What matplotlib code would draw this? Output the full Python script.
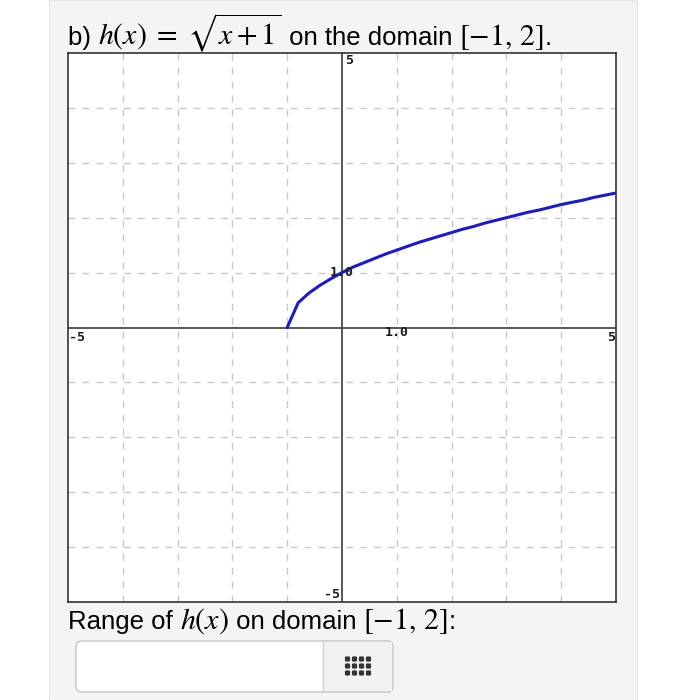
import matplotlib.pyplot as plt
from matplotlib.patches import Rectangle, FancyBboxPatch

# valores
x_vals = [-1.0, -0.8, -0.6, -0.4, -0.2, 0.0, 0.2, 0.4, 0.6, 0.8,
          1.0, 1.2, 1.4, 1.6, 1.8, 2.0, 2.2, 2.4, 2.6, 2.8,
          3.0, 3.2, 3.4, 3.6, 3.8, 4.0, 4.2, 4.4, 4.6, 4.8, 5.0]
y_vals = [0.0, 0.45, 0.63, 0.77, 0.89, 1.0, 1.10, 1.18, 1.26, 1.34,
          1.41, 1.48, 1.55, 1.61, 1.67, 1.73, 1.79, 1.84, 1.90, 1.95,
          2.0, 2.05, 2.10, 2.14, 2.19, 2.24, 2.28, 2.32, 2.37, 2.41, 2.45]
grid_ticks = [-4, -3, -2, -1, 1, 2, 3, 4]

title_parts = [('b) ', 'txt'), (r'$h(x)\;=\;\sqrt{x+1}$', 'mat'), (' on the domain ', 'txt'),
               (r'$[-1,\,2]$', 'mat'), ('.', 'txt')]
range_parts = [('Range of ', 'txt'), (r'$h(x)$', 'mat'), (' on domain ', 'txt'),
               (r'$[-1,\,2]$', 'mat'), (':', 'txt')]

plt.rcParams['mathtext.fontset'] = 'stix'
W, H = 688, 700
fig = plt.figure(figsize=(W / 100, H / 100), dpi=100)
fig.patch.set_facecolor('white')

# painel cinza de fundo
fig.patches.append(Rectangle((49 / W, 0), (637 - 49) / W, 1, transform=fig.transFigure,
                             facecolor='#f4f4f4', edgecolor='#e6e6e6', lw=0.8, zorder=-5))


def linha_texto(partes, x0, y0, tam_txt=18.5, tam_mat=21.5):
    renderer = fig.canvas.get_renderer()
    x = x0
    for s, tipo in partes:
        if tipo == 'txt':
            t = fig.text(x / W, 1 - y0 / H, s, fontsize=tam_txt, family='Liberation Sans',
                         va='baseline', ha='left')
        else:
            t = fig.text(x / W, 1 - y0 / H, s, fontsize=tam_mat, va='baseline', ha='left')
        bb = t.get_window_extent(renderer)
        x += bb.width


linha_texto(title_parts, 68, 45)

ax = fig.add_axes([68 / W, 1 - 602 / H, (616 - 68) / W, (602 - 53) / H], zorder=2)
ax.set_facecolor('white')
ax.set_xlim(-5, 5)
ax.set_ylim(-5, 5)
for g in grid_ticks:
    ax.axvline(g, color='#c8c8c8', lw=1, ls=(0, (5, 5)), zorder=1)
    ax.axhline(g, color='#c8c8c8', lw=1, ls=(0, (5, 5)), zorder=1)
ax.axhline(0, color='#3a3a3a', lw=1.2, zorder=2)
ax.axvline(0, color='#3a3a3a', lw=1.2, zorder=2)
ax.plot(x_vals, y_vals, color='#1a1ad2', lw=2.2, zorder=3, solid_capstyle='round')
ax.set_xticks([])
ax.set_yticks([])
for s in ax.spines.values():
    s.set_color('#333333')
    s.set_linewidth(1.2)

lbl = dict(family='DejaVu Sans Mono', fontweight='bold', fontsize=9.5, color='#1a1a1a', zorder=4)
ax.text(0.06, 4.99, '5', ha='left', va='top', **lbl)
ax.text(-0.04, -4.99, '-5', ha='right', va='bottom', **lbl)
ax.text(-4.99, -0.07, '-5', ha='left', va='top', **lbl)
ax.text(4.99, -0.07, '5', ha='right', va='top', **lbl)
ax.text(1.0, 0.02, '1.0', ha='center', va='top', **lbl)
ax.text(0.0, 1.0, '1.0', ha='center', va='center', **lbl)

# texto do range
linha_texto(range_parts, 68, 629)

# caixa de entrada
fig.patches.append(FancyBboxPatch((76 / W, 1 - 692 / H), (393 - 76) / W, (692 - 641) / H,
                                  boxstyle='round,pad=0,rounding_size=0.008',
                                  transform=fig.transFigure, facecolor='white',
                                  edgecolor='#c4c4c4', lw=1, zorder=2))
fig.patches.append(Rectangle((323 / W, 1 - 691 / H), (392 - 323) / W, (691 - 642) / H,
                             transform=fig.transFigure, facecolor='#f2f2f2',
                             edgecolor='none', zorder=3))
fig.lines.append(plt.Line2D([323 / W, 323 / W], [1 - 691 / H, 1 - 642 / H],
                            transform=fig.transFigure, color='#d0d0d0', lw=1, zorder=4))
for i in range(4):
    for j in range(3):
        cx = 347.5 + i * 7
        cy = 659 + j * 7
        fig.patches.append(FancyBboxPatch(((cx - 2.6) / W, 1 - (cy + 2.6) / H), 5.2 / W, 5.2 / H,
                                          boxstyle='round,pad=0,rounding_size=0.002',
                                          transform=fig.transFigure, facecolor='#333333',
                                          edgecolor='none', zorder=5))

fig.savefig('out.png', dpi=100)
